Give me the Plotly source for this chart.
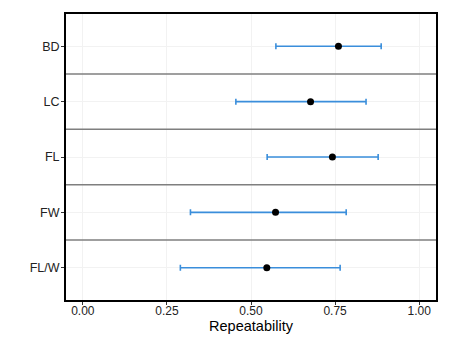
import plotly.graph_objects as go

traits = ["BD", "LC", "FL", "FW", "FL/W"]
repeatability = [0.760, 0.677, 0.742, 0.573, 0.547]
ci_low = [0.574, 0.455, 0.548, 0.320, 0.290]
ci_high = [0.887, 0.842, 0.878, 0.783, 0.765]
x_ticks = [0.0, 0.25, 0.5, 0.75, 1.0]

pos = list(range(len(traits)))
err_plus = [h - r for h, r in zip(ci_high, repeatability)]
err_minus = [r - l for r, l in zip(repeatability, ci_low)]

fig = go.Figure()
fig.add_trace(go.Scatter(
    x=repeatability, y=pos, mode="markers",
    marker=dict(color="black", size=7),
    error_x=dict(type="data", array=err_plus, arrayminus=err_minus,
                 color="#3A8EDB", thickness=1.6, width=3),
    showlegend=False,
))

shapes = []
for i in range(len(traits) - 1):
    shapes.append(dict(type="line", xref="paper", x0=0, x1=1, yref="y",
                       y0=i + 0.5, y1=i + 0.5,
                       line=dict(color="#7f7f7f", width=1.5)))

font = "Liberation Sans, Arial, sans-serif"
fig.update_layout(
    width=474, height=351,
    margin=dict(l=66, r=38, t=14, b=51),
    paper_bgcolor="white", plot_bgcolor="white",
    shapes=shapes,
    font=dict(family=font, color="#333333"),
    xaxis=dict(range=[-0.05, 1.05], tickvals=x_ticks, tickformat=".2f",
               showgrid=True, gridcolor="#f2f2f2", gridwidth=1,
               zeroline=False, showline=True, mirror=True,
               linecolor="black", linewidth=2,
               ticks="outside", ticklen=3, tickcolor="#333333",
               ticklabelstandoff=-4,
               tickfont=dict(size=12, color="#222222"),
               title=dict(text="Repeatability", font=dict(size=14.5, color="black"),
                          standoff=0)),
    yaxis=dict(range=[4.584, -0.584], tickvals=pos, ticktext=traits,
               showgrid=True, gridcolor="#f2f2f2", gridwidth=1,
               zeroline=False, showline=True, mirror=True,
               linecolor="black", linewidth=2,
               ticks="outside", ticklen=3, tickcolor="#333333",
               ticklabelstandoff=-1,
               tickfont=dict(size=12.5, color="#222222")),
)

fig.write_html("out.html")
